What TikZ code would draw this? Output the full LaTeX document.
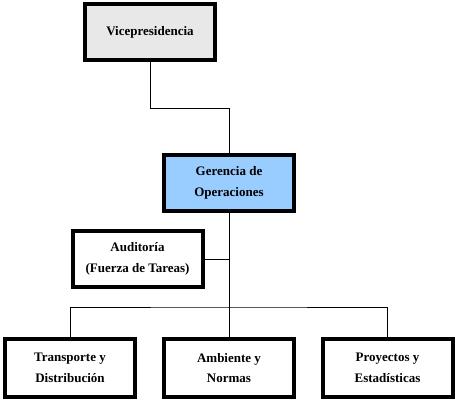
\documentclass[tikz,border=0pt]{standalone}
\usepackage{fontspec}
\setmainfont{Liberation Serif}
\definecolor{vicefill}{HTML}{E8E8E8}
\definecolor{gerfill}{HTML}{99CCFF}
\begin{document}
\begin{tikzpicture}[x=1pt,y=-1pt,
  orgbox/.style={draw=black, line width=4pt, fill=white, minimum width=130pt, minimum height=56pt,
    inner sep=0pt, align=center, font=\fontsize{13}{20.5}\selectfont\bfseries},
  conn/.style={draw=black, line width=1pt}]
\useasboundingbox (0,0) rectangle (458,402);
\node[orgbox, fill=vicefill] (vice) at (150,32) {Vicepresidencia};
\node[orgbox, fill=gerfill] (ger) at (229,183) {Gerencia de\\Operaciones};
\node[orgbox] (aud) at (137.5,259) {Auditoría\\(Fuerza de Tareas)};
\node[orgbox, minimum height=58pt] (trans) at (70,368) {Transporte y\\Distribución};
\node[orgbox, minimum height=58pt] (amb) at (229,368) {Ambiente y\\Normas};
\node[orgbox, minimum height=58pt] (proy) at (387.5,368) {Proyectos y\\Estadísticas};
\coordinate (j1) at (229,108);
\coordinate (bus) at (229,307);
\draw[conn] (vice.south) |- (j1) -- (ger.north);
\draw[conn] (ger.south) -- (amb.north);
\draw[conn] (aud.east) -- (aud.east -| ger.south);
\draw[conn] (trans.north) |- (bus) -| (proy.north);
\end{tikzpicture}
\end{document}
